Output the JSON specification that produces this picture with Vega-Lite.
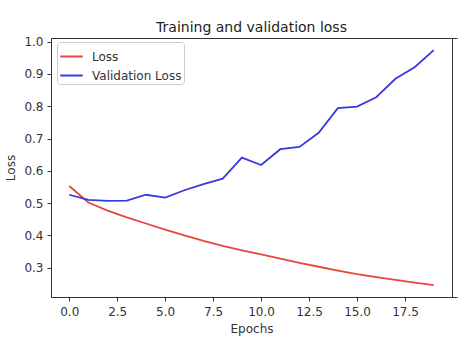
{
  "$schema": "https://vega.github.io/schema/vega-lite/v6.json",
  "width": 401,
  "height": 259,
  "autosize": "none",
  "padding": {"left": 51, "top": 38, "right": 22, "bottom": 51},
  "background": "white",
  "title": {"text": "Training and validation loss", "fontSize": 14, "font": "DejaVu Sans", "fontWeight": "normal", "color": "#222", "offset": 1},
  "config": {
    "view": {"stroke": "#333", "strokeWidth": 1},
    "axis": {"labelFont": "DejaVu Sans", "labelFontSize": 12, "labelColor": "#333", "titleFont": "DejaVu Sans", "titleFontSize": 12, "titleFontWeight": "normal", "titleColor": "#333", "domainColor": "#333", "tickColor": "#333", "tickSize": 4, "labelPadding": 4, "grid": false},
    "legend": {"labelFont": "DejaVu Sans", "labelFontSize": 12, "labelColor": "#333"}
  },
  "data": {"values": [
    {"epoch": 0, "series": "Loss", "loss": 0.553},
    {"epoch": 1, "series": "Loss", "loss": 0.502},
    {"epoch": 2, "series": "Loss", "loss": 0.477},
    {"epoch": 3, "series": "Loss", "loss": 0.456},
    {"epoch": 4, "series": "Loss", "loss": 0.437},
    {"epoch": 5, "series": "Loss", "loss": 0.418},
    {"epoch": 6, "series": "Loss", "loss": 0.400},
    {"epoch": 7, "series": "Loss", "loss": 0.383},
    {"epoch": 8, "series": "Loss", "loss": 0.368},
    {"epoch": 9, "series": "Loss", "loss": 0.354},
    {"epoch": 10, "series": "Loss", "loss": 0.341},
    {"epoch": 11, "series": "Loss", "loss": 0.328},
    {"epoch": 12, "series": "Loss", "loss": 0.315},
    {"epoch": 13, "series": "Loss", "loss": 0.303},
    {"epoch": 14, "series": "Loss", "loss": 0.291},
    {"epoch": 15, "series": "Loss", "loss": 0.280},
    {"epoch": 16, "series": "Loss", "loss": 0.271},
    {"epoch": 17, "series": "Loss", "loss": 0.262},
    {"epoch": 18, "series": "Loss", "loss": 0.254},
    {"epoch": 19, "series": "Loss", "loss": 0.246},
    {"epoch": 0, "series": "Validation Loss", "loss": 0.526},
    {"epoch": 1, "series": "Validation Loss", "loss": 0.510},
    {"epoch": 2, "series": "Validation Loss", "loss": 0.507},
    {"epoch": 3, "series": "Validation Loss", "loss": 0.508},
    {"epoch": 4, "series": "Validation Loss", "loss": 0.526},
    {"epoch": 5, "series": "Validation Loss", "loss": 0.517},
    {"epoch": 6, "series": "Validation Loss", "loss": 0.540},
    {"epoch": 7, "series": "Validation Loss", "loss": 0.559},
    {"epoch": 8, "series": "Validation Loss", "loss": 0.576},
    {"epoch": 9, "series": "Validation Loss", "loss": 0.641},
    {"epoch": 10, "series": "Validation Loss", "loss": 0.618},
    {"epoch": 11, "series": "Validation Loss", "loss": 0.667},
    {"epoch": 12, "series": "Validation Loss", "loss": 0.674},
    {"epoch": 13, "series": "Validation Loss", "loss": 0.718},
    {"epoch": 14, "series": "Validation Loss", "loss": 0.794},
    {"epoch": 15, "series": "Validation Loss", "loss": 0.799},
    {"epoch": 16, "series": "Validation Loss", "loss": 0.828},
    {"epoch": 17, "series": "Validation Loss", "loss": 0.885},
    {"epoch": 18, "series": "Validation Loss", "loss": 0.921},
    {"epoch": 19, "series": "Validation Loss", "loss": 0.974}
  ]},
  "layer": [
    {
      "mark": {"type": "line", "strokeWidth": 1.8, "clip": true},
      "encoding": {
        "x": {"field": "epoch", "type": "quantitative", "scale": {"domain": [-0.95, 19.95], "nice": false, "zero": false},
              "axis": {"title": "Epochs", "values": [0, 2.5, 5, 7.5, 10, 12.5, 15, 17.5], "format": ".1f", "labelPadding": 5, "titlePadding": 6}},
        "y": {"field": "loss", "type": "quantitative", "scale": {"domain": [0.2093, 1.0115], "nice": false, "zero": false},
              "axis": {"title": "Loss", "values": [0.3, 0.4, 0.5, 0.6, 0.7, 0.8, 0.9, 1.0], "format": ".1f", "titlePadding": 6}},
        "color": {"field": "series", "type": "nominal",
                  "scale": {"domain": ["Loss", "Validation Loss"], "range": ["#e4473c", "#3a3adc"]},
                  "legend": {"title": null, "orient": "none", "legendX": 6, "legendY": 4, "symbolType": "stroke", "symbolSize": 500, "symbolStrokeWidth": 2, "strokeColor": "#cccccc", "fillColor": "white", "cornerRadius": 3, "padding": 2, "rowPadding": -6, "labelOffset": 8}}
      }
    },
    {
      "mark": {"type": "rule", "opacity": 0},
      "encoding": {
        "y": {"field": "loss", "type": "quantitative",
              "axis": {"orient": "right", "title": null, "values": [0.2093, 1.0115], "labels": false, "domain": false, "tickSize": 5}}
      }
    }
  ],
  "resolve": {"axis": {"y": "independent"}}
}
